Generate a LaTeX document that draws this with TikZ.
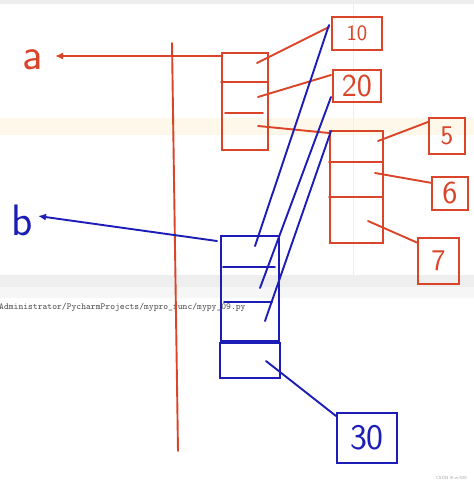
\documentclass[tikz,border=0pt]{standalone}
\usepackage{fontspec}
\usetikzlibrary{arrows.meta}
\definecolor{inkred}{RGB}{218,68,40}
\definecolor{inkblue}{RGB}{28,28,182}
\definecolor{bandgray}{RGB}{238,238,238}
\definecolor{bandlight}{RGB}{246,246,246}
\definecolor{bandyellow}{RGB}{253,248,234}
\definecolor{pathgray}{RGB}{80,80,80}
\tikzset{
  redline/.style={draw=inkred, line width=1.9pt, line cap=round},
  blueline/.style={draw=inkblue, line width=1.9pt, line cap=round},
  redarrow/.style={redline, -{Latex[length=8pt,width=7pt]}},
  bluearrow/.style={blueline, -{Latex[length=8pt,width=7pt]}},
  cellbox/.style={rectangle, inner sep=0pt, anchor=north west},
  redbox/.style={cellbox, redline, text=inkred},
  bluebox/.style={cellbox, blueline, text=inkblue},
  num/.style={font=\fontsize{#1}{#1}\sffamily},
}
\begin{document}
\begin{tikzpicture}[x=1pt,y=-1pt]
\useasboundingbox (0,0) rectangle (474,485);
% background of the screenshot
\fill[white] (0,0) rectangle (474,485);
\fill[bandgray] (0,0) rectangle (474,4);
\fill[bandyellow] (0,118) rectangle (474,135);
\fill[bandgray] (0,275) rectangle (474,287);
\fill[bandlight] (0,287) rectangle (474,298);
\draw[bandgray, line width=0.8pt] (353,4) -- (353,275);
\node[anchor=west, inner sep=0pt, text=pathgray, font=\fontsize{9.2}{9.2}\ttfamily] (path) at (-1,307) {Administrator/PycharmProjects/mypro\_func/mypy\_09.py};
\node[anchor=east, inner sep=0pt, text=black!35, font=\fontsize{4.5}{4.5}\sffamily] (wm) at (467,478) {CSDN @-w-920};

% red vertical divider
\coordinate (vtop) at (172,43);
\coordinate (vbot) at (178,451);
\draw[redline] (vtop) -- (vbot);

% red stack a
\node[redbox, minimum width=46pt, minimum height=97pt] (A) at (221,52) {};
\draw[redline] (221,82) -- (267,82);
\draw[redline] (225,113) -- (263,113);
% red stack of list
\node[redbox, minimum width=53pt, minimum height=112pt] (B) at (329,130) {};
\draw[redline] (329,162) -- (382,162);
\draw[redline] (329,197) -- (382,197);

% value boxes
\node[redbox, minimum width=50pt, minimum height=33pt, num=22] (b10) at (331,16) {10};
\node[redbox, minimum width=48pt, minimum height=32pt, num=32] (b20) at (332,69) {20};
\node[redbox, minimum width=36pt, minimum height=36pt, num=27] (b5) at (428,117) {5};
\node[redbox, minimum width=36pt, minimum height=33pt, num=32] (b6) at (431,176) {6};
\node[redbox, minimum width=41pt, minimum height=46pt, num=30] (b7) at (417,237) {7};
\node[bluebox, minimum width=60pt, minimum height=50pt, num=36] (b30) at (336,412) {30};

% blue stack b
\node[bluebox, minimum width=58pt, minimum height=105pt] (S) at (220,235) {};
\draw[blueline] (223,267) -- (275,267);
\draw[blueline] (224,302) -- (272,302);
\node[bluebox, minimum width=60pt, minimum height=35pt] (L) at (219,342) {};

% labels a and b
\node[text=inkred, inner sep=0pt, font=\fontsize{45}{45}\sffamily] (la) at (33,60) {a};
\node[text=inkblue, inner sep=0pt, font=\fontsize{44}{44}\sffamily] (lb) at (22,220) {b};

% reference arrows
\coordinate (aStart) at (222,56);
\coordinate (aEnd) at (55,56);
\draw[redarrow] (aStart) -- (aEnd);
\coordinate (bStart) at (217,241);
\coordinate (bEnd) at (38,216);
\draw[bluearrow] (bStart) -- (bEnd);

% red connectors
\coordinate (a1) at (257,63);
\coordinate (a2) at (258,97);
\coordinate (a3) at (258,126);
\coordinate (t10) at (329,27);
\coordinate (t20) at (331,75);
\coordinate (tB) at (329,133);
\draw[redline] (a1) -- (t10);
\draw[redline] (a2) -- (t20);
\draw[redline] (a3) -- (tB);
\coordinate (c1) at (378,141);
\coordinate (c2) at (375,173);
\coordinate (c3) at (368,221);
\coordinate (t5) at (428,122);
\coordinate (t6) at (432,183);
\coordinate (t7) at (418,243);
\draw[redline] (c1) -- (t5);
\draw[redline] (c2) -- (t6);
\draw[redline] (c3) -- (t7);

% blue connectors
\coordinate (s1) at (255,246);
\coordinate (s2) at (260,288);
\coordinate (s3) at (265,321);
\coordinate (s4) at (266,361);
\coordinate (u10) at (329,25);
\coordinate (u20) at (331,97);
\coordinate (uB) at (331,131);
\coordinate (u30) at (336,416);
\draw[blueline] (s1) -- (u10);
\draw[blueline] (s2) -- (u20);
\draw[blueline] (s3) -- (uB);
\draw[blueline] (s4) -- (u30);
\end{tikzpicture}
\end{document}
